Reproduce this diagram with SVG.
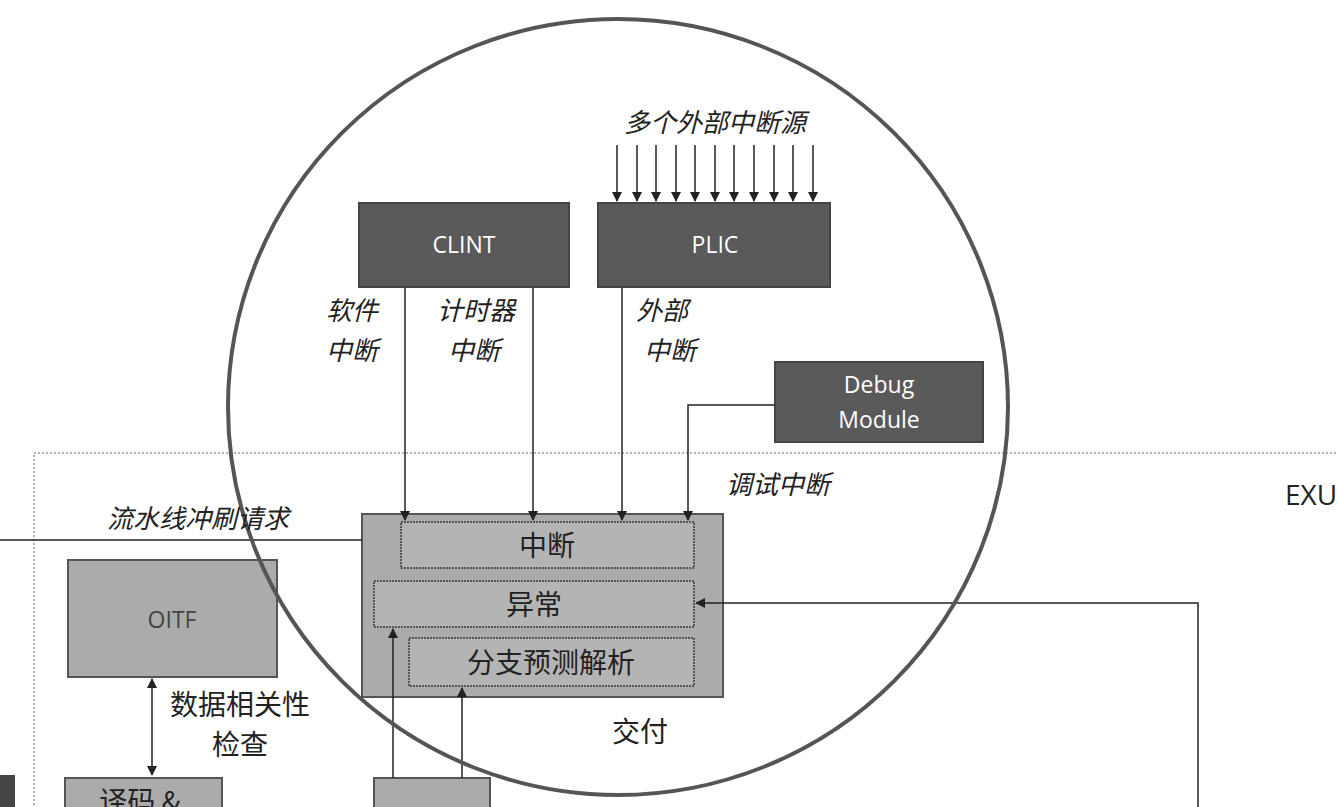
<svg xmlns="http://www.w3.org/2000/svg" width="1338" height="807" viewBox="0 0 1338 807">
<style>
.dk{fill:#5a5a5a;stroke:#444;stroke-width:2}
.lt{fill:#ababab;stroke:#555;stroke-width:2}
.in{fill:#b4b4b4;stroke:#555;stroke-width:2;stroke-dasharray:2 1}
.w{fill:#fff;font-family:"Open Sans","Liberation Sans",sans-serif;font-size:23px;text-anchor:middle}
.t{fill:#222;font-family:"Noto Sans CJK SC",sans-serif;font-size:28px;text-anchor:middle}
.i{fill:#222;font-family:"Noto Sans CJK SC",sans-serif;font-size:26px;font-style:italic;text-anchor:middle}
.c{stroke:#222;stroke-width:1.5;fill:none}
</style>
<defs><marker id="a" markerWidth="10" markerHeight="10" refX="9" refY="5" orient="auto-start-reverse" markerUnits="userSpaceOnUse"><path d="M0,0 L10,5 L0,10 z" fill="#222"/></marker></defs>
<rect width="1338" height="807" fill="#fff"/>
<rect x="34" y="453" width="1320" height="400" fill="none" stroke="#999" stroke-width="1.5" stroke-dasharray="2 2"/>
<text x="1285" y="505" font-family="Open Sans,Liberation Sans,sans-serif" font-size="28" fill="#222">EXU</text>
<rect x="0" y="775" width="15" height="32" fill="#444"/>
<g id="clint"><rect class="dk" x="359" y="203" width="210" height="84"/><text class="w" x="464" y="253">CLINT</text></g>
<g id="plic"><rect class="dk" x="598" y="203" width="232" height="84"/><text class="w" x="715" y="253">PLIC</text></g>
<g id="debug"><rect class="dk" x="775" y="362" width="208" height="80"/><text class="w" x="879" y="393">Debug</text><text class="w" x="879" y="428">Module</text></g>
<g id="commit"><rect class="lt" x="362" y="514" width="361" height="183"/>
<rect class="in" x="401" y="522" width="293" height="46"/><text class="t" x="547" y="556">中断</text>
<rect class="in" x="374" y="581" width="320" height="46"/><text class="t" x="534" y="615">异常</text>
<rect class="in" x="409" y="638" width="285" height="48"/><text class="t" x="551" y="673">分支预测解析</text>
<text class="t" x="640" y="742">交付</text></g>
<g id="oitf"><rect class="lt" x="68" y="560" width="209" height="117"/><text class="w" x="172" y="628" style="fill:#444">OITF</text></g>
<g id="decode"><rect class="lt" x="65" y="778" width="157" height="40"/><text class="t" x="140" y="812">译码 &amp;</text></g>
<g id="alu"><rect class="lt" x="374" y="778" width="116" height="40"/></g>
<g id="conn">
<path class="c" d="M405,288 V520" marker-end="url(#a)"/>
<path class="c" d="M533,288 V520" marker-end="url(#a)"/>
<path class="c" d="M622,288 V520" marker-end="url(#a)"/>
<path class="c" d="M775,405 H688 V520" marker-end="url(#a)"/>
<g marker-end="url(#a)"><path class="c" d="M617,145 V201"/><path class="c" d="M637,145 V201"/><path class="c" d="M656,145 V201"/><path class="c" d="M676,145 V201"/><path class="c" d="M695,145 V201"/><path class="c" d="M715,145 V201"/><path class="c" d="M734,145 V201"/><path class="c" d="M754,145 V201"/><path class="c" d="M774,145 V201"/><path class="c" d="M793,145 V201"/><path class="c" d="M813,145 V201"/></g>
<path class="c" d="M0,540 H362"/>
<path class="c" d="M1198,807 V603 H696" marker-end="url(#a)"/>
<path class="c" d="M393,778 V629" marker-end="url(#a)"/>
<path class="c" d="M462,778 V688" marker-end="url(#a)"/>
<path class="c" d="M152,679 V775" marker-start="url(#a)" marker-end="url(#a)"/>
</g>
<ellipse cx="618" cy="407" rx="390" ry="388" fill="none" stroke="#555" stroke-width="4"/>
<text class="i" x="715" y="132">多个外部中断源</text>
<text class="i" x="352" y="320">软件</text><text class="i" x="352" y="360">中断</text>
<text class="i" x="476" y="320">计时器</text><text class="i" x="474" y="360">中断</text>
<text class="i" x="662" y="320">外部</text><text class="i" x="670" y="360">中断</text>
<text class="i" x="778" y="494">调试中断</text>
<text class="i" x="198" y="528">流水线冲刷请求</text>
<text class="t" x="240" y="715">数据相关性</text>
<text class="t" x="240" y="755">检查</text>
</svg>
